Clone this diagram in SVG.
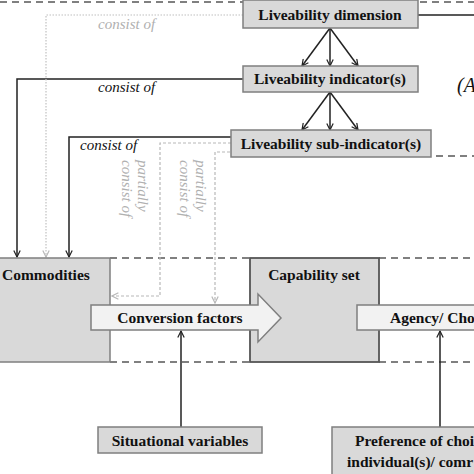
<svg xmlns="http://www.w3.org/2000/svg" width="474" height="474" viewBox="0 0 474 474">
<style>
.box{fill:#d9d9d9;stroke:#7f7f7f;stroke-width:1.5}
.lbl{font-family:"Liberation Serif","Times New Roman",serif;font-weight:bold;font-size:15.5px;fill:#111}
.it{font-family:"Liberation Serif","Times New Roman",serif;font-style:italic;font-size:15px;fill:#111}
.itg{font-family:"Liberation Serif","Times New Roman",serif;font-style:italic;font-size:15px;fill:#b0b0b0}
.dash{fill:none;stroke:#808080;stroke-width:2;stroke-dasharray:7,5}
.ln{fill:none;stroke:#222;stroke-width:1.5}
.gd{fill:none;stroke:#b8b8b8;stroke-width:1.2;stroke-dasharray:3,2}
.gdot{fill:none;stroke:#c0c0c0;stroke-width:1.2;stroke-dasharray:1.5,1.5}
</style>
<defs>
<marker id="ah" viewBox="0 0 10 10" refX="9" refY="5" markerWidth="8" markerHeight="8" orient="auto" markerUnits="userSpaceOnUse">
<path d="M1,1 L9,5 L1,9" fill="none" stroke="#222" stroke-width="1.5"/>
</marker>
<marker id="ahg" viewBox="0 0 10 10" refX="9" refY="5" markerWidth="8" markerHeight="8" orient="auto" markerUnits="userSpaceOnUse">
<path d="M1,1 L9,5 L1,9" fill="none" stroke="#b8b8b8" stroke-width="1.5"/>
</marker>
</defs>
<rect width="474" height="474" fill="#fff"/>
<g id="frame">
<line class="dash" x1="0" y1="2" x2="474" y2="2"/>
<line class="dash" x1="436" y1="156" x2="474" y2="156"/>
<line class="dash" x1="110" y1="258" x2="250" y2="258"/>
<line class="dash" x1="379" y1="258" x2="474" y2="258"/>
<line class="dash" x1="110" y1="362" x2="250" y2="362"/>
<line class="dash" x1="379" y1="362" x2="474" y2="362"/>
</g>
<g id="connectors">
<line class="ln" x1="418" y1="15" x2="474" y2="15"/>
<line class="ln" x1="330" y1="28" x2="302" y2="66" marker-end="url(#ah)"/>
<line class="ln" x1="330" y1="28" x2="330" y2="66" marker-end="url(#ah)"/>
<line class="ln" x1="330" y1="28" x2="358" y2="66" marker-end="url(#ah)"/>
<line class="ln" x1="330" y1="92" x2="302" y2="130" marker-end="url(#ah)"/>
<line class="ln" x1="330" y1="92" x2="330" y2="130" marker-end="url(#ah)"/>
<line class="ln" x1="330" y1="92" x2="358" y2="130" marker-end="url(#ah)"/>
<polyline class="ln" points="243,79 17,79 17,257" marker-end="url(#ah)"/>
<polyline class="ln" points="231,137 69,137 69,257" marker-end="url(#ah)"/>
<polyline class="gdot" points="243,15 46,15 46,257" marker-end="url(#ahg)"/>
<polyline class="gd" points="231,143 160,143 160,296 112,296" marker-end="url(#ahg)"/>
<polyline class="gd" points="240,152 215,152 215,303" marker-end="url(#ahg)"/>
<line class="ln" x1="181" y1="427" x2="181" y2="331" marker-end="url(#ah)"/>
<line class="ln" x1="440" y1="427" x2="440" y2="331" marker-end="url(#ah)"/>
<text class="itg" x="98" y="29">consist of</text>
<text class="it" x="98" y="92">consist of</text>
<text class="it" x="80" y="150">consist of</text>
<text class="itg" transform="translate(138,160) rotate(90)">partially</text>
<text class="itg" transform="translate(122,160) rotate(90)">consist of</text>
<text class="itg" transform="translate(196,160) rotate(90)">partially</text>
<text class="itg" transform="translate(180,160) rotate(90)">consist of</text>
</g>
<g id="dimension">
<rect class="box" x="243" y="0" width="175" height="28"/>
<text class="lbl" x="330" y="20" text-anchor="middle">Liveability dimension</text>
</g>
<g id="indicator">
<rect class="box" x="243" y="66" width="175" height="26"/>
<text class="lbl" x="330" y="84" text-anchor="middle">Liveability indicator(s)</text>
</g>
<g id="subindicator">
<rect class="box" x="231" y="130" width="200" height="27"/>
<text class="lbl" x="331" y="149" text-anchor="middle">Liveability sub-indicator(s)</text>
</g>
<text x="457" y="92" font-family="'Liberation Serif','Times New Roman',serif" font-style="italic" font-size="20" fill="#111">(A</text>
<g id="commodities">
<rect class="box" x="-1" y="258" width="111" height="104"/>
<text class="lbl" x="2" y="280">Commodities</text>
</g>
<g id="capability">
<rect x="250" y="258" width="129" height="104" fill="#d9d9d9" stroke="#555" stroke-width="1.8"/>
<text class="lbl" x="314" y="280" text-anchor="middle">Capability set</text>
</g>
<g id="conversion">
<polygon points="91,305 258,305 258,294 281,318 258,342 258,330 91,330" fill="#f2f2f2" stroke="#7f7f7f" stroke-width="1.5"/>
<text class="lbl" x="180" y="323" text-anchor="middle">Conversion factors</text>
</g>
<g id="agency">
<rect x="357" y="305" width="130" height="25" fill="#f2f2f2" stroke="#7f7f7f" stroke-width="1.5"/>
<text class="lbl" x="390" y="323">Agency/ Cho</text>
</g>
<g id="situational">
<rect class="box" x="98" y="427" width="164" height="26"/>
<text class="lbl" x="180" y="446" text-anchor="middle">Situational variables</text>
</g>
<g id="preference">
<rect class="box" x="332" y="427" width="150" height="60"/>
<text class="lbl" x="355" y="446">Preference of choi</text>
<text class="lbl" x="347" y="467">individual(s)/ comr</text>
</g>
</svg>
